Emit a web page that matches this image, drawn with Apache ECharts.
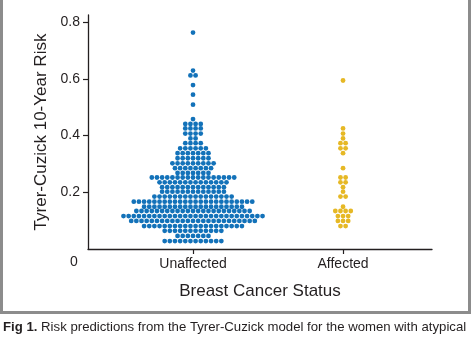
<!DOCTYPE html>
<html>
<head>
<meta charset="utf-8">
<script src="https://cdn.jsdelivr.net/npm/echarts@6/dist/echarts.min.js"></script>
<style>
  html, body { margin: 0; padding: 0; background: #fff; }
  #chart { width: 474px; height: 337px; }
</style>
</head>
<body>
<div id="chart"></div>
<script>
// Groups on the x axis
const categories = ['Unaffected', 'Affected'];
const yTicks = [0.2, 0.4, 0.6, 0.8];

// Tyrer-Cuzick 10-year risk, binned into swarm rows: risk level and number of women
const unaffectedRisk = [0.028, 0.046, 0.064, 0.081, 0.099, 0.116, 0.134, 0.149, 0.167, 0.185,
  0.202, 0.218, 0.235, 0.252, 0.268, 0.285, 0.302, 0.320, 0.338, 0.355,
  0.373, 0.390, 0.407, 0.425, 0.441, 0.458, 0.509, 0.544, 0.578, 0.612, 0.629, 0.763];
const unaffectedCount = [12, 7, 12, 20, 25, 28, 23, 20, 24, 16,
  13, 13, 14, 17, 7, 8, 9, 7, 7, 6,
  4, 2, 4, 4, 4, 1, 1, 1, 1, 2, 1, 1];

const affectedRisk = [0.081, 0.099, 0.116, 0.134, 0.149, 0.185, 0.202, 0.218, 0.235, 0.252,
  0.285, 0.338, 0.355, 0.373, 0.390, 0.407, 0.425, 0.594];
const affectedCount = [2, 3, 3, 4, 1, 2, 1, 1, 2, 2,
  1, 1, 2, 2, 1, 1, 1, 1];

const BLUE = '#1372b9';
const GOLD = '#e6b825';
const DOT_STEP = 5.15;   // horizontal pitch between neighbouring dots, px
const DOT_R = 2.4;

// Expand each row into individual dots, each with its slot relative to the row centre
function swarm(xPos, risks, counts) {
  const out = [];
  risks.forEach((r, i) => {
    const n = counts[i];
    for (let k = 0; k < n; k++) out.push([xPos, r, k - (n - 1) / 2]);
  });
  return out;
}

function dotRenderer(color) {
  return function (params, api) {
    const p = api.coord([api.value(0), api.value(1)]);
    return {
      type: 'circle',
      shape: { cx: p[0] + api.value(2) * DOT_STEP, cy: p[1], r: DOT_R },
      style: { fill: color }
    };
  };
}

const textColor = '#231f20';
const FONT = 'Liberation Sans, Arial, sans-serif';
const chart = echarts.init(document.getElementById('chart'), null, { renderer: 'canvas' });

chart.setOption({
  animation: false,
  backgroundColor: '#fff',
  grid: { left: 88, right: 42, top: 15, bottom: 88, containLabel: false },
  xAxis: {
    type: 'value',
    min: 0.3,
    max: 2.593,
    splitLine: { show: false },
    axisLine: { show: true, onZero: false, lineStyle: { color: '#231f20', width: 1.3 } },
    axisTick: { show: true, customValues: [1, 2], length: 5, lineStyle: { color: '#231f20', width: 1.2 } },
    axisLabel: {
      customValues: [1, 2],
      formatter: v => categories[Math.round(v) - 1],
      fontFamily: FONT,
      fontSize: 14,
      color: textColor,
      margin: 8
    },
    name: 'Breast Cancer Status',
    nameLocation: 'middle',
    nameGap: 34,
    nameTextStyle: { fontFamily: FONT, fontSize: 17, color: textColor }
  },
  yAxis: {
    type: 'value',
    min: 0,
    max: 0.825,
    splitLine: { show: false },
    axisLine: { show: true, lineStyle: { color: '#231f20', width: 1.3 } },
    axisTick: { show: true, customValues: yTicks, length: 5, lineStyle: { color: '#231f20', width: 1.2 } },
    axisLabel: {
      customValues: yTicks,
      formatter: v => v.toFixed(1),
      fontFamily: FONT,
      fontSize: 14,
      color: textColor,
      margin: 8
    },
    name: 'Tyrer-Cuzick 10-Year Risk',
    nameLocation: 'middle',
    nameRotate: 90,
    nameGap: 36,
    nameTextStyle: { fontFamily: FONT, fontSize: 17, color: textColor }
  },
  series: [
    {
      name: categories[0],
      type: 'custom',
      renderItem: dotRenderer(BLUE),
      encode: { x: 0, y: 1 },
      data: swarm(1, unaffectedRisk, unaffectedCount)
    },
    {
      name: categories[1],
      type: 'custom',
      renderItem: dotRenderer(GOLD),
      encode: { x: 0, y: 1 },
      data: swarm(2, affectedRisk, affectedCount)
    }
  ],
  graphic: [
    // origin label sitting on the category-label line
    {
      type: 'text', left: 70, top: 255,
      style: { text: '0', fontFamily: FONT, fontSize: 14, fill: textColor }
    },
    // figure frame
    { type: 'line', shape: { x1: 1.5, y1: 0, x2: 1.5, y2: 313 }, style: { stroke: '#8c8c8c', lineWidth: 3 } },
    { type: 'line', shape: { x1: 469.5, y1: 0, x2: 469.5, y2: 313 }, style: { stroke: '#8c8c8c', lineWidth: 3 } },
    { type: 'line', shape: { x1: 0, y1: 312.5, x2: 471, y2: 312.5 }, style: { stroke: '#8c8c8c', lineWidth: 3 } },
    // caption
    {
      type: 'text', left: 3, top: 321,
      style: {
        text: '{b|Fig 1.} Risk predictions from the Tyrer-Cuzick model for the women with atypical',
        fontFamily: FONT,
        fontSize: 13.2,
        fill: '#231f20',
        rich: { b: { fontWeight: 'bold', fontSize: 13.2, fontFamily: FONT, fill: '#231f20' } }
      }
    }
  ]
});
</script>
</body>
</html>
